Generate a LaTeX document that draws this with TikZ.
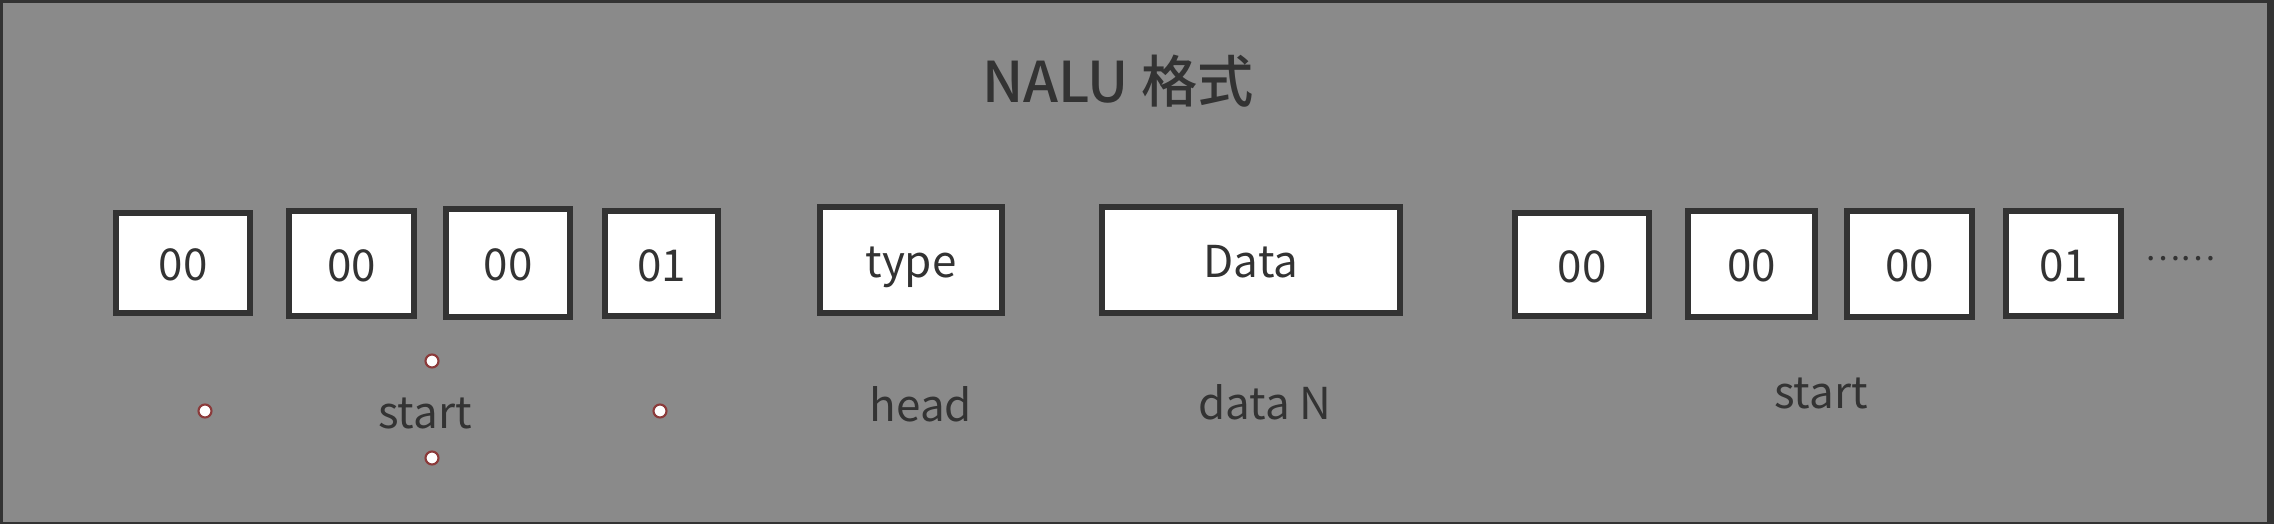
\documentclass[tikz,border=0pt]{standalone}
\usepackage{fontspec}
\setmainfont{Noto Sans CJK SC}
\newfontfamily\titlefont{Noto Sans CJK SC Medium}

\definecolor{frame}{HTML}{333333}
\definecolor{bg}{HTML}{8A8A8A}
\definecolor{ink}{HTML}{333333}
\definecolor{handle}{HTML}{8B3A3A}

\begin{document}
\begin{tikzpicture}[
  byte/.style={draw=ink, fill=white, line width=1.7pt, inner sep=0pt, text=ink,
    font=\fontsize{12.5}{15}\selectfont, text height=11pt, text depth=1pt},
  lbl/.style={text=ink, font=\fontsize{12.5}{15}\selectfont, anchor=base, inner sep=0pt},
  grip/.style={circle, draw=handle, fill=white, line width=0.6pt, minimum size=0.13cm, inner sep=0pt}]

\useasboundingbox (0,0) rectangle (22.74,5.24);
\fill [frame] (0,0) rectangle (22.74,5.24);
\fill [bg] (0.03,0.02) rectangle (22.67,5.21);

\node [text=ink, font=\fontsize{16}{18}\titlefont, anchor=base, inner sep=0pt] (title) at (11.18,4.22) {NALU 格式};

% start code
\node [byte, minimum width=1.34cm, minimum height=1.00cm] (b1) at (1.83,2.61) {00};
\node [byte, minimum width=1.25cm, minimum height=1.05cm] (b2) at (3.515,2.605) {00};
\node [byte, minimum width=1.24cm, minimum height=1.08cm] (b3) at (5.08,2.61) {00};
\node [byte, minimum width=1.13cm, minimum height=1.05cm] (b4) at (6.615,2.605) {01};

% head + data
\node [byte, minimum width=1.82cm, minimum height=1.06cm] (type) at (9.11,2.64) {type};
\node [byte, minimum width=2.98cm, minimum height=1.06cm] (data) at (12.51,2.64) {Data};

% next start code
\node [byte, minimum width=1.34cm, minimum height=1.03cm] (b5) at (15.82,2.595) {00};
\node [byte, minimum width=1.27cm, minimum height=1.06cm] (b6) at (17.515,2.60) {00};
\node [byte, minimum width=1.25cm, minimum height=1.06cm] (b7) at (19.095,2.60) {00};
\node [byte, minimum width=1.15cm, minimum height=1.05cm] (b8) at (20.635,2.605) {01};

\node [text=ink, font=\fontsize{9.4}{10}\selectfont, inner sep=0pt] (more) at (21.80,2.65) {……};

\node [lbl] (start1) at (4.25,0.96) {start};
\node [lbl] (head) at (9.21,1.03) {head};
\node [lbl] (dataN) at (12.65,1.05) {data N};
\node [lbl] (start2) at (18.21,1.16) {start};

% handles round the first label
\node [grip] (gw) at (2.05,1.13) {};
\node [grip] (gn) at (4.32,1.63) {};
\node [grip] (ge) at (6.60,1.13) {};
\node [grip] (gs) at (4.32,0.66) {};

\end{tikzpicture}
\end{document}
